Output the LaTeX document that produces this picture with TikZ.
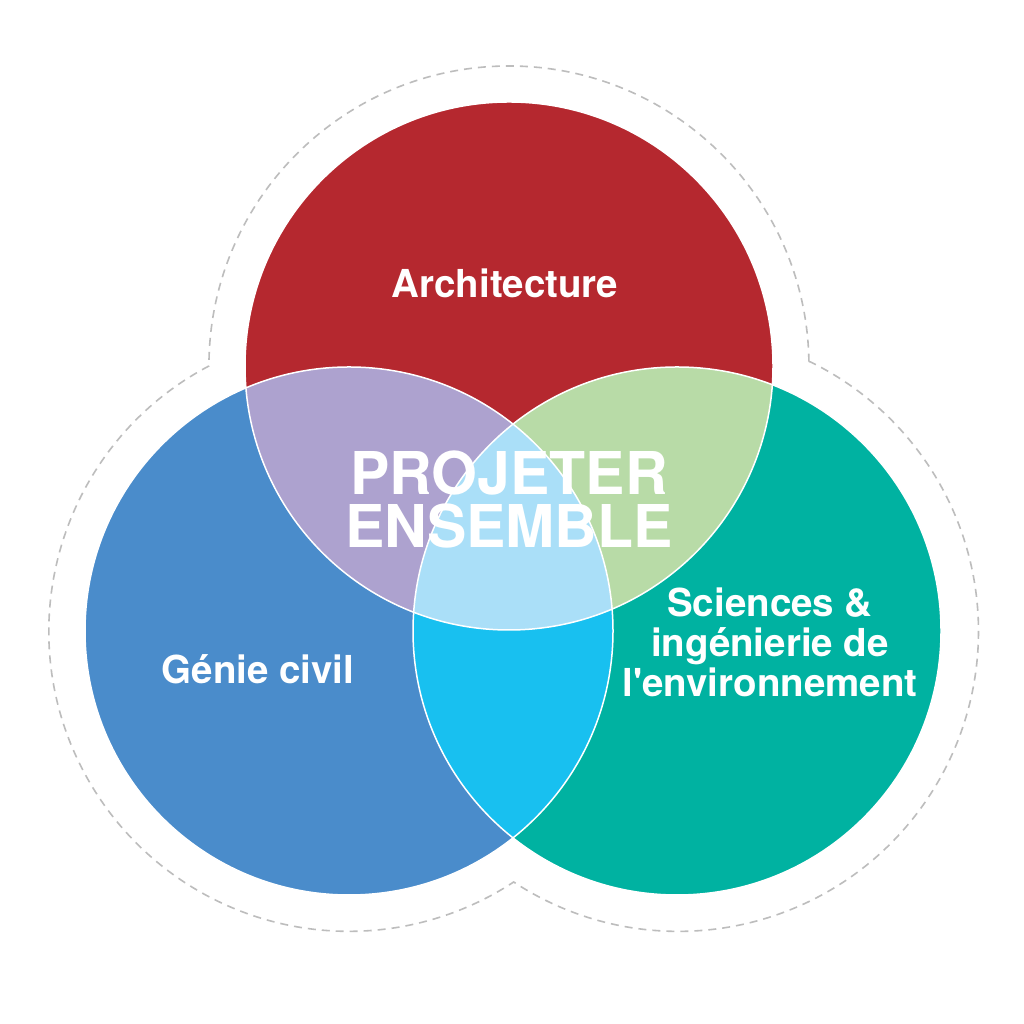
\documentclass[tikz,border=0pt]{standalone}
\usepackage{fontspec}
\setmainfont{TeX Gyre Heros}
\definecolor{cred}{HTML}{B5282F}
\definecolor{cblue}{HTML}{4A8CCB}
\definecolor{cteal}{HTML}{00B2A1}
\definecolor{cpurple}{HTML}{ADA2CF}
\definecolor{cgreen}{HTML}{B8DBA7}
\definecolor{ccyan}{HTML}{18C0F0}
\definecolor{ccenter}{HTML}{AADFF8}
\definecolor{cdash}{HTML}{BDBDBD}
\tikzset{
  ring/.style={draw=white, line width=1.5pt},
  outline/.style={draw=cdash, line width=1.6pt, dash pattern=on 8pt off 6pt},
  label/.style={text=white, font=\bfseries\fontsize{38.5}{40}\selectfont, align=center, inner sep=0pt},
  biglabel/.style={text=white, font=\bfseries\fontsize{59}{53}\selectfont, align=center, inner sep=0pt}
}
\begin{document}
\begin{tikzpicture}[x=1pt,y=1pt]
\useasboundingbox (0,0) rectangle (1024,1024);
\fill[white] (0,0) rectangle (1024,1024);
\coordinate (A) at (509,658);
\coordinate (B) at (349,393);
\coordinate (C) at (677,393);
\def\r{264}
% dashed union outline (radius 300)
\draw[outline] (808.9,662.4)
  arc[start angle=0.84, end angle=180, radius=300]
  arc[start angle=117.8, end angle=303.33, radius=300]
  arc[start angle=236.67, end angle=423.9, radius=300] -- cycle;
% circles
\fill[cred] (A) circle (\r);
\fill[cblue] (B) circle (\r);
\fill[cteal] (C) circle (\r);
% pairwise overlaps
\begin{scope}
  \clip (A) circle (\r);
  \fill[cpurple] (B) circle (\r);
  \fill[cgreen] (C) circle (\r);
\end{scope}
\begin{scope}
  \clip (B) circle (\r);
  \fill[ccyan] (C) circle (\r);
\end{scope}
\begin{scope}
  \clip (A) circle (\r);
  \clip (B) circle (\r);
  \fill[ccenter] (C) circle (\r);
\end{scope}
% white borders
\draw[ring] (A) circle (\r);
\draw[ring] (B) circle (\r);
\draw[ring] (C) circle (\r);
% labels
\node[label, anchor=base] (arch) at (505,726) {Architecture};
\node[label, anchor=base] (genie) at (258,340) {Génie civil};
\node[label, anchor=base] (sci) at (770,327) {Sciences \&\\ingénierie de\\l\textquotesingle environnement};
\node[biglabel, anchor=base] (proj) at (509,476) {PROJETER\\ENSEMBLE};
\end{tikzpicture}
\end{document}
